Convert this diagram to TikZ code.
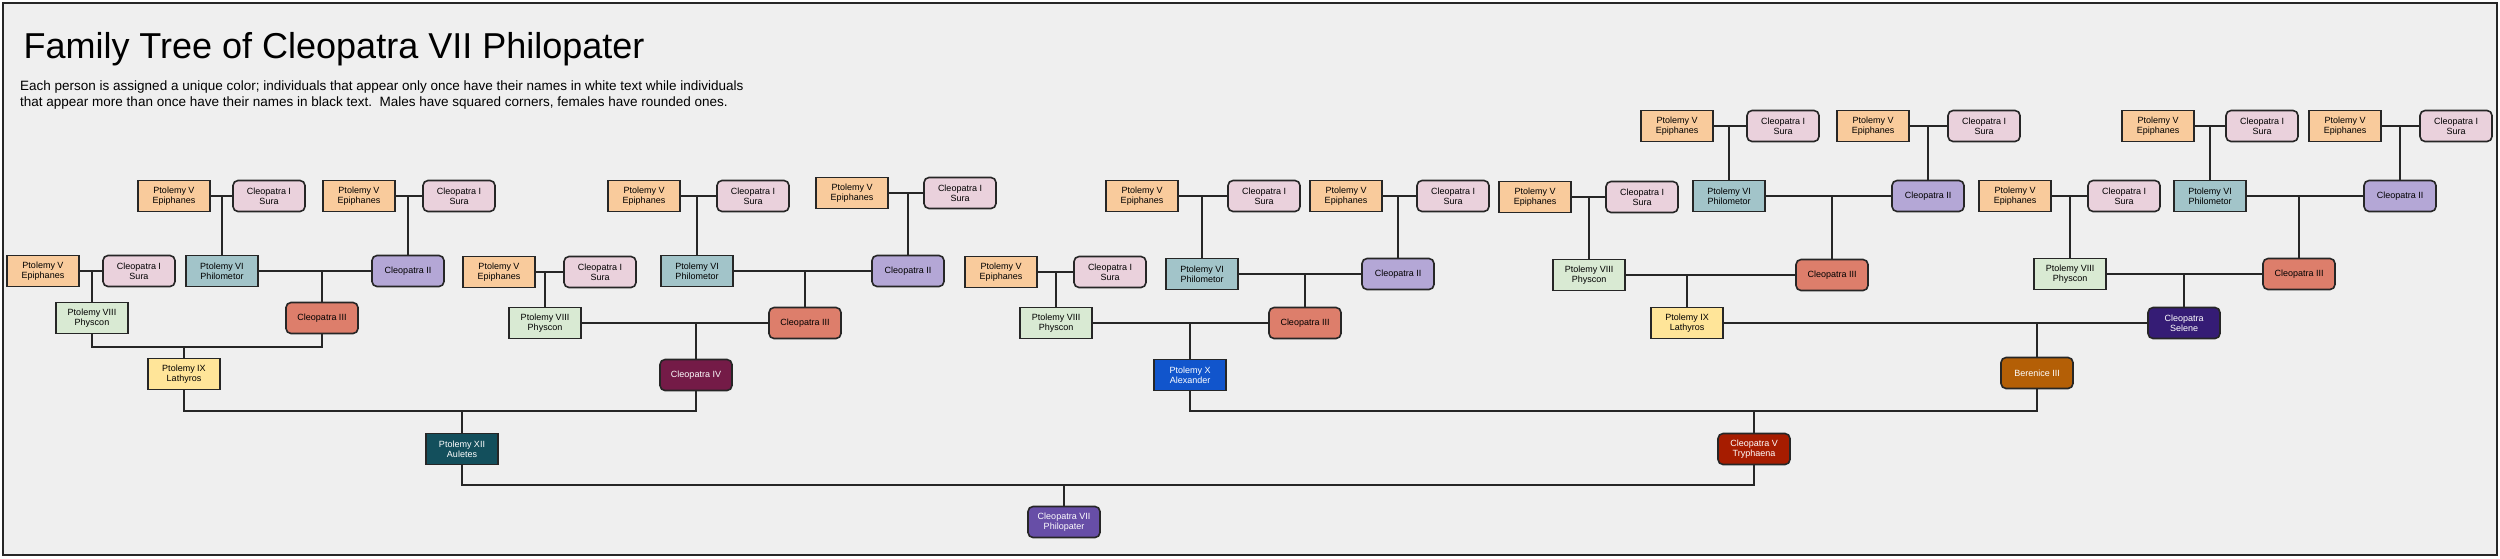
\documentclass[tikz,border=0pt]{standalone}
\usepackage{fontspec}
\setmainfont{Liberation Sans}
\begin{document}
\begin{tikzpicture}[x=1pt,y=-1pt,
  person/.style={draw=black!85,line width=1.6pt,minimum width=72pt,minimum height=31pt,inner sep=0pt,align=center,font=\fontsize{9}{10}\selectfont},
  male/.style={person},
  fem/.style={person,rounded corners=5pt},
  link/.style={line width=1.8pt,draw=black!85},
  pv/.style={male,fill=pvC},
  ci/.style={fem,fill=ciC},
  pvi/.style={male,fill=pviC},
  cii/.style={fem,fill=ciiC},
  ciii/.style={fem,fill=ciiiC},
  pviii/.style={male,fill=pviiiC},
  wt/.style={text=white}
]
\definecolor{bgC}{HTML}{EFEFEF}
\definecolor{pvC}{HTML}{F9CB9C}
\definecolor{ciC}{HTML}{EAD1DC}
\definecolor{pviC}{HTML}{A2C4C9}
\definecolor{ciiC}{HTML}{B4A7D6}
\definecolor{ciiiC}{HTML}{DD7E6B}
\definecolor{pviiiC}{HTML}{D9EAD3}
\definecolor{pixC}{HTML}{FFE599}
\definecolor{civC}{HTML}{741B47}
\definecolor{pxiiC}{HTML}{134F5C}
\definecolor{cviiC}{HTML}{674EA7}
\definecolor{pxC}{HTML}{1155CC}
\definecolor{cvC}{HTML}{A61C00}
\definecolor{cselC}{HTML}{351C75}
\definecolor{berC}{HTML}{B45F06}
\useasboundingbox (0,0) rectangle (2500,558);
\draw[fill=bgC,draw=black!85,line width=1.5pt] (3,3) rectangle (2497,555);
\node[anchor=base west,font=\fontsize{36}{40}\selectfont] (title) at (20,58) {Family Tree of Cleopatra VII Philopater};
\node[anchor=base west,align=left,font=\fontsize{13.5}{16}\selectfont,inner sep=0pt] (desc) at (20,106) {Each person is assigned a unique color; individuals that appear only once have their names in white text while individuals\\that appear more than once have their names in black text.\ \ Males have squared corners, females have rounded ones.};

% ---------- group A
\node[pv] (a5) at (43,271) {Ptolemy V\\Epiphanes};
\node[ci] (a1) at (139,271) {Cleopatra I\\Sura};
\node[pviii] (a8) at (92,318) {Ptolemy VIII\\Physcon};
\node[pv] (a5t) at (174,196) {Ptolemy V\\Epiphanes};
\node[ci] (a1t) at (269,196) {Cleopatra I\\Sura};
\node[pvi] (a6) at (222,271) {Ptolemy VI\\Philometor};
\node[pv] (a5u) at (359,196) {Ptolemy V\\Epiphanes};
\node[ci] (a1u) at (459,196) {Cleopatra I\\Sura};
\node[cii] (a2) at (408,271) {Cleopatra II};
\node[ciii] (a3) at (322,318) {Cleopatra III};
\node[male,fill=pixC] (a9) at (184,374) {Ptolemy IX\\Lathyros};
% ---------- group B
\node[pv] (b5) at (499,272) {Ptolemy V\\Epiphanes};
\node[ci] (b1) at (600,272) {Cleopatra I\\Sura};
\node[pviii] (b8) at (545,323) {Ptolemy VIII\\Physcon};
\node[pv] (b5t) at (644,196) {Ptolemy V\\Epiphanes};
\node[ci] (b1t) at (753,196) {Cleopatra I\\Sura};
\node[pvi] (b6) at (697,271) {Ptolemy VI\\Philometor};
\node[pv] (b5u) at (852,193) {Ptolemy V\\Epiphanes};
\node[ci] (b1u) at (960,193) {Cleopatra I\\Sura};
\node[cii] (b2) at (908,271) {Cleopatra II};
\node[ciii] (b3) at (805,323) {Cleopatra III};
\node[fem,fill=civC,wt] (b4) at (696,375) {Cleopatra IV};
% ---------- group C
\node[pv] (c5) at (1001,272) {Ptolemy V\\Epiphanes};
\node[ci] (c1) at (1110,272) {Cleopatra I\\Sura};
\node[pviii] (c8) at (1056,323) {Ptolemy VIII\\Physcon};
\node[pv] (c5t) at (1142,196) {Ptolemy V\\Epiphanes};
\node[ci] (c1t) at (1264,196) {Cleopatra I\\Sura};
\node[pvi] (c6) at (1202,274) {Ptolemy VI\\Philometor};
\node[pv] (c5u) at (1346,196) {Ptolemy V\\Epiphanes};
\node[ci] (c1u) at (1453,196) {Cleopatra I\\Sura};
\node[cii] (c2) at (1398,274) {Cleopatra II};
\node[ciii] (c3) at (1305,323) {Cleopatra III};
\node[male,fill=pxC,wt] (cx) at (1190,375) {Ptolemy X\\Alexander};
% ---------- group D
\node[pv] (d5) at (1535,197) {Ptolemy V\\Epiphanes};
\node[ci] (d1) at (1642,197) {Cleopatra I\\Sura};
\node[pviii] (d8) at (1589,275) {Ptolemy VIII\\Physcon};
\node[pv] (d5t) at (1677,126) {Ptolemy V\\Epiphanes};
\node[ci] (d1t) at (1783,126) {Cleopatra I\\Sura};
\node[pvi] (d6) at (1729,196) {Ptolemy VI\\Philometor};
\node[pv] (d5u) at (1873,126) {Ptolemy V\\Epiphanes};
\node[ci] (d1u) at (1984,126) {Cleopatra I\\Sura};
\node[cii] (d2) at (1928,196) {Cleopatra II};
\node[ciii] (d3) at (1832,275) {Cleopatra III};
\node[male,fill=pixC] (d9) at (1687,323) {Ptolemy IX\\Lathyros};
% ---------- group E
\node[pv] (e5) at (2015,196) {Ptolemy V\\Epiphanes};
\node[ci] (e1) at (2124,196) {Cleopatra I\\Sura};
\node[pviii] (e8) at (2070,274) {Ptolemy VIII\\Physcon};
\node[pv] (e5t) at (2158,126) {Ptolemy V\\Epiphanes};
\node[ci] (e1t) at (2262,126) {Cleopatra I\\Sura};
\node[pvi] (e6) at (2210,196) {Ptolemy VI\\Philometor};
\node[pv] (e5u) at (2345,126) {Ptolemy V\\Epiphanes};
\node[ci] (e1u) at (2456,126) {Cleopatra I\\Sura};
\node[cii] (e2) at (2400,196) {Cleopatra II};
\node[ciii] (e3) at (2299,274) {Cleopatra III};
\node[fem,fill=cselC,wt] (es) at (2184,323) {Cleopatra\\Selene};
\node[fem,fill=berC,wt] (ber) at (2037,373) {Berenice III};
% ---------- bottom
\node[male,fill=pxiiC,wt] (xii) at (462,449) {Ptolemy XII\\Auletes};
\node[fem,fill=cvC,wt] (cv) at (1754,449) {Cleopatra V\\Tryphaena};
\node[fem,fill=cviiC,wt] (vii) at (1064,522) {Cleopatra VII\\Philopater};

% ---------- connectors
\begin{scope}[on background layer/.style={}]
\foreach \g in {a,b,c,d,e}{
  \draw[link] (\g5.east) -- (\g1.west);
  \draw[link] (\g8.north) -- (\g8.north |- \g5.east);
  \draw[link] (\g5t.east) -- (\g1t.west);
  \draw[link] (\g6.north) -- (\g6.north |- \g5t.east);
  \draw[link] (\g5u.east) -- (\g1u.west);
  \draw[link] (\g2.north) -- (\g2.north |- \g5u.east);
  \draw[link] (\g6.east) -- (\g2.west);
  \draw[link] (\g3.north) -- (\g3.north |- \g6.east);
}
\end{scope}
\coordinate (jA) at (184,347);
\draw[link] (a8.south) |- (jA) -| (a3.south);
\draw[link] (jA) -- (a9.north);
\draw[link] (b8.east) -- (b3.west);
\draw[link] (b4.north) -- (b4.north |- b8.east);
\draw[link] (c8.east) -- (c3.west);
\draw[link] (cx.north) -- (cx.north |- c8.east);
\draw[link] (d8.east) -- (d3.west);
\draw[link] (d9.north) -- (d9.north |- d8.east);
\draw[link] (e8.east) -- (e3.west);
\draw[link] (es.north) -- (es.north |- e8.east);
\draw[link] (d9.east) -- (es.west);
\draw[link] (ber.north) -- (ber.north |- d9.east);
\coordinate (jX) at (462,411);
\draw[link] (a9.south) |- (jX) -| (b4.south);
\draw[link] (jX) -- (xii.north);
\coordinate (jV) at (1754,411);
\draw[link] (cx.south) |- (jV) -| (ber.south);
\draw[link] (jV) -- (cv.north);
\coordinate (jP) at (1064,485);
\draw[link] (xii.south) |- (jP) -| (cv.south);
\draw[link] (jP) -- (vii.north);
\end{tikzpicture}
\end{document}
